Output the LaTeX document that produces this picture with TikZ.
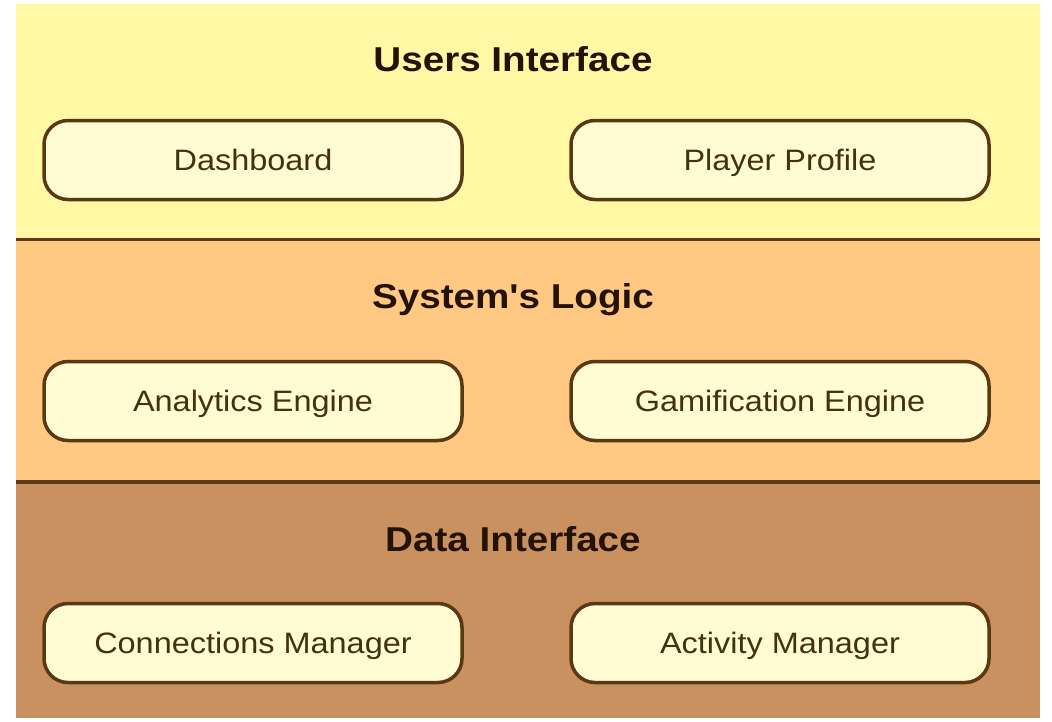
\documentclass[tikz,border=0pt]{standalone}
\usepackage{fontspec}
\setmainfont{Liberation Sans}
\newfontfamily\boxfont[FakeStretch=1.10]{Liberation Sans}
\newfontfamily\titlefont[FakeStretch=1.12]{Liberation Sans}
\definecolor{uiyellow}{HTML}{FFF9A6}
\definecolor{logicorange}{HTML}{FFC883}
\definecolor{databrown}{HTML}{C8915F}
\definecolor{boxfill}{HTML}{FFFCD4}
\definecolor{boxline}{HTML}{5A3812}
\definecolor{divline}{HTML}{5E3A14}
\definecolor{boxtext}{HTML}{45300F}
\definecolor{titletext}{HTML}{241206}
\tikzset{
  compbox/.style={draw=boxline, line width=3.5pt, fill=boxfill, rounded corners=24pt,
    minimum width=418pt, minimum height=79pt, inner sep=0pt,
    text height=21.5pt, text depth=0pt,
    font=\boxfont\fontsize{29.5}{34}\selectfont, text=boxtext},
  layertitle/.style={font=\titlefont\bfseries\fontsize{34.5}{40}\selectfont, text=titletext,
    inner sep=0pt, text height=25pt, text depth=0pt},
  divider/.style={draw=divline, line width=3.5pt}
}
\begin{document}
\begin{tikzpicture}[x=1pt,y=-1pt]
\useasboundingbox (0,0) rectangle (1052,721);
% layers
\fill[uiyellow] (16,4) rectangle (1040,240);
\fill[logicorange] (16,240) rectangle (1040,482);
\fill[databrown] (16,482) rectangle (1040,718);
\coordinate (d1l) at (16,239.5);
\coordinate (d1r) at (1040,239.5);
\coordinate (d2l) at (16,482);
\coordinate (d2r) at (1040,482);
\draw[divider] (d1l) -- (d1r);
\draw[divider] (d2l) -- (d2r);
% titles
\node[layertitle] (t1) at (513,59) {Users Interface};
\node[layertitle] (t2) at (513,296) {System's Logic};
\node[layertitle] (t3) at (513,539) {Data Interface};
% components
\node[compbox] (dash) at (253,160) {Dashboard};
\node[compbox] (prof) at (780,160) {Player Profile};
\node[compbox] (anal) at (253,401) {Analytics Engine};
\node[compbox] (gami) at (780,401) {Gamification Engine};
\node[compbox] (conn) at (253,643) {Connections Manager};
\node[compbox] (acti) at (780,643) {Activity Manager};
\end{tikzpicture}
\end{document}
